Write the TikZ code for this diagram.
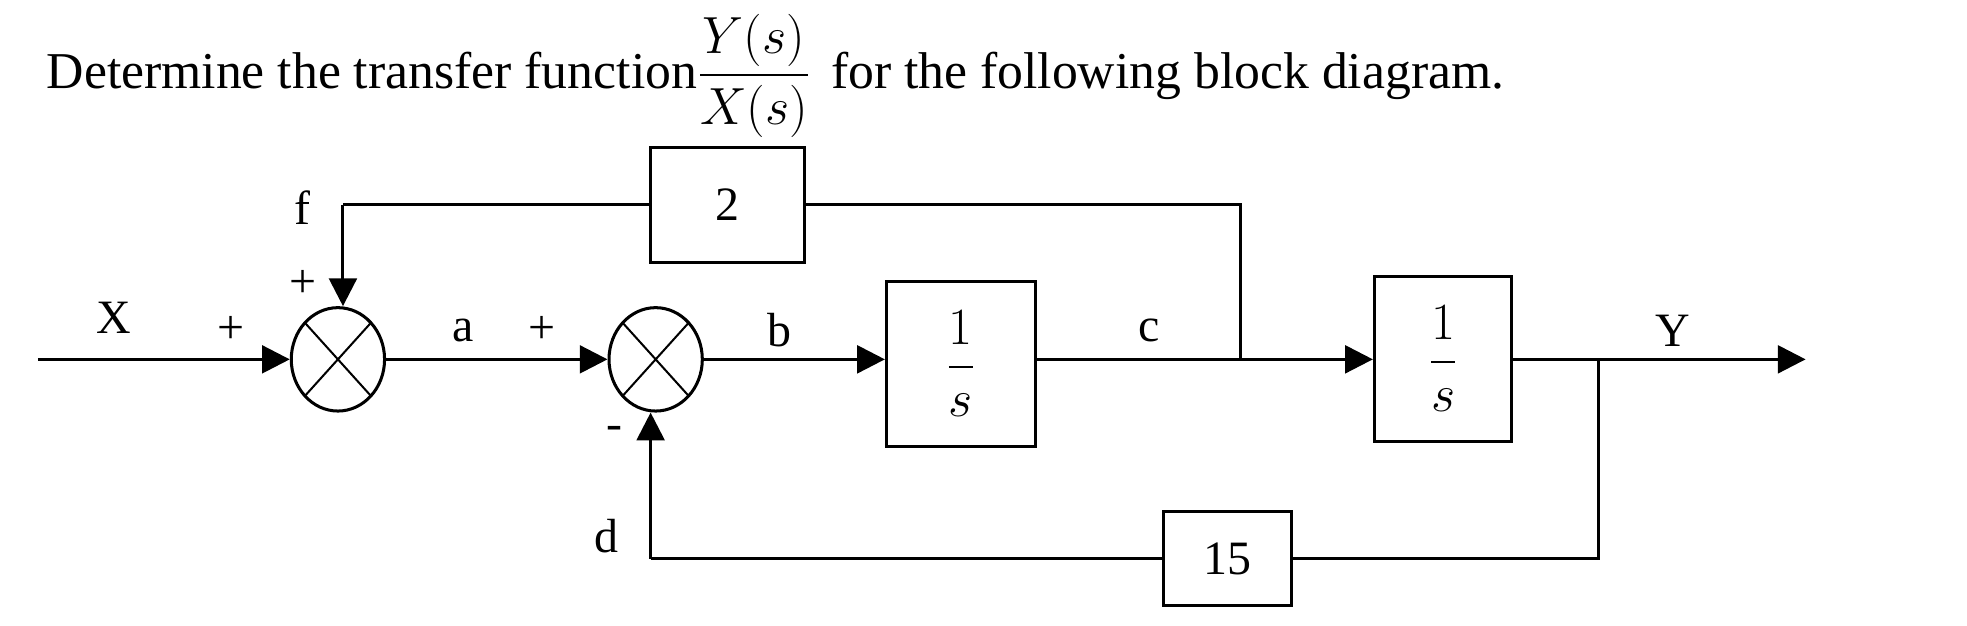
\documentclass[tikz,border=0pt]{standalone}
\usepackage{amsmath}
\usepackage{fontspec}
\setmainfont{Liberation Serif}
\usetikzlibrary{arrows.meta,shapes.geometric}
\tikzset{
	blk/.style={draw, line width=1.2pt, inner sep=0},
	sumj/.style={draw, ellipse, line width=1.2pt, minimum width=37pt, minimum height=41pt, inner sep=0,
		path picture={\draw[line width=.8pt] (path picture bounding box.south west) -- (path picture bounding box.north east)
			(path picture bounding box.north west) -- (path picture bounding box.south east);}},
	sig/.style={line width=1.2pt},
	arr/.style={sig, -{Triangle[length=11pt, width=11pt]}},
	lbl/.style={font=\fontsize{19}{21}\selectfont}
}
\begin{document}
\begin{tikzpicture}[x=0.5pt, y=-0.5pt, lbl]
	\useasboundingbox (0, 0) rectangle (1560, 496);
	\node[anchor=base west, font=\fontsize{20.5}{22}\selectfont] (q) at (30, 70) {Determine the transfer function};
	\node (fr) at (598, 60) {\fontsize{22}{24}\selectfont$\dfrac{Y(s)}{X(s)}$};
	\node[anchor=base west, font=\fontsize{20.5}{22}\selectfont] (q2) at (652, 70) {for the following block diagram.};

	\node[blk, minimum width=61pt, minimum height=45.5pt] (g2) at (577, 162.5) {2};
	\node[blk, minimum width=59pt, minimum height=65.5pt] (g1) at (762, 288.5) {\fontsize{22}{24}\selectfont$\dfrac{1}{s}$};
	\node[blk, minimum width=54.5pt, minimum height=65.5pt] (g3) at (1144.5, 284.5) {\fontsize{22}{24}\selectfont$\dfrac{1}{s}$};
	\node[blk, minimum width=50.5pt, minimum height=37pt] (g15) at (973.5, 443) {15};
	\node[sumj] (s1) at (268, 285) {};
	\node[sumj] (s2) at (520, 285) {};

	\coordinate (xin) at (30, 285);
	\coordinate (yout) at (1432, 285);
	\coordinate (tc) at (984, 285);
	\coordinate (ty) at (1268, 285);
	\coordinate (tf) at (272, 162.5);
	\coordinate (td) at (516, 443);

	\draw[arr] (xin) -- (s1);
	\draw[arr] (s1) -- (s2);
	\draw[arr] (s2) -- (g1.west |- s2);
	\draw[arr] (g1.east |- s2) -- (g3.west |- s2);
	\draw[arr] (g3.east |- s2) -- (yout);
	\draw[sig] (tc) |- (g2.east);
	\draw[sig] (g2.west) -- (tf);
	\draw[arr] (tf) -- (s1.north -| tf);
	\draw[sig] (ty) |- (g15.east);
	\draw[sig] (g15.west) -- (td);
	\draw[arr] (td) -- (s2.south -| td);

	\node (lx) at (90, 252) {X};
	\node (p1) at (183, 262) {+};
	\node (p2) at (240, 225) {+};
	\node (la) at (367, 262) {a};
	\node (p3) at (430, 262) {+};
	\node (lb) at (618, 262) {b};
	\node (lc) at (911, 262) {c};
	\node (ly) at (1327, 262) {Y};
	\node (lf) at (240, 165) {f};
	\node (m) at (487, 343) {-};
	\node (ld) at (481, 425) {d};
\end{tikzpicture}
\end{document}
